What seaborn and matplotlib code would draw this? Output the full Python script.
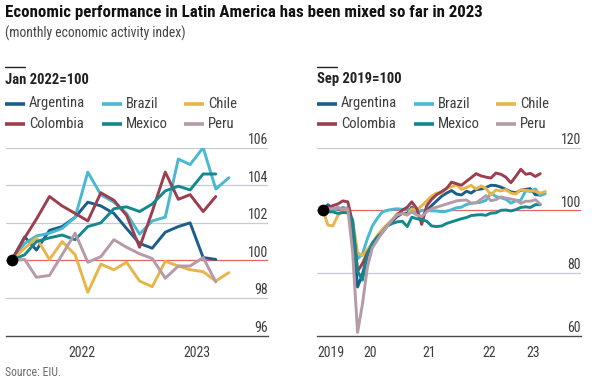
import matplotlib
matplotlib.use("Agg")
import matplotlib.pyplot as plt
import matplotlib.transforms as mtransforms
from matplotlib.lines import Line2D
import seaborn as sns
import pandas as pd

countries = ["Argentina", "Brazil", "Chile", "Colombia", "Mexico", "Peru"]
colours = ["#1b5e8c", "#47b9d0", "#e8b54a", "#9b3f4f", "#13888e", "#b59aa8"]

# left panel: index, Jan 2022=100, monthly from Jan 2022
jan22_argentina = [100, 101.25, 100.55, 101.6, 101.8, 102.3, 103.1, 102.9, 102.5, 101.7, 100.9, 100.65,
                   101.5, 101.8, 102.0, 100.15, 100.05]
jan22_brazil = [100, 100.9, 101.3, 101.45, 101.7, 102.3, 104.7, 103.5, 103.1, 102.5, 101.4, 102.1,
                102.3, 105.4, 105.1, 106.0, 103.8, 104.4]
jan22_chile = [100, 100.65, 101.2, 100.05, 101.0, 100.3, 98.3, 99.8, 99.5, 99.9, 98.9, 98.6,
               99.95, 99.7, 99.5, 99.4, 98.9, 99.35]
jan22_colombia = [100, 101.2, 102.2, 103.4, 102.9, 102.5, 102.1, 103.6, 103.2, 102.4, 100.7, 102.6,
                  104.7, 103.25, 103.5, 102.6, 103.4]
jan22_mexico = [100, 100.3, 101.0, 101.2, 101.35, 101.1, 101.8, 102.0, 102.75, 102.85, 102.6, 103.0,
                103.7, 103.95, 103.75, 104.6, 104.6]
jan22_peru = [100, 100.05, 99.1, 99.2, 100.3, 101.45, 99.9, 100.2, 101.1, 100.7, 100.35, 100.1,
              99.05, 99.7, 99.7, 100.15, 98.85]

# right panel: index, Sep 2019=100, monthly from Sep 2019
sep19_argentina = [100, 101.8, 100.6, 100.4, 100.8, 100.5, 94.5, 75.5, 79.5, 86,
                   89.5, 91.5, 93.5, 95, 96.5, 98, 99, 99, 101, 99,
                   97.5, 100, 101.5, 103, 104.5, 105.5, 106.3, 105.2, 104.9, 106.1,
                   105.5, 106.6, 106.8, 107.3, 108.0, 107.9, 107.4, 106.7, 105.9, 105.6,
                   106.4, 106.7, 106.9, 105.0, 104.9]
sep19_brazil = [100, 100.3, 100, 100.5, 100.5, 100.8, 95.5, 84.5, 86, 91,
                95, 97.5, 99.5, 100, 100.3, 100.5, 100.3, 100.5, 99.5, 99.2,
                100, 100, 99.8, 99.8, 99.5, 99.7, 100.2, 100.8, 101, 101.9,
                102.2, 102.4, 102.6, 103.2, 105.5, 104.4, 104.0, 103.5, 102.3, 103.0,
                103.2, 106.3, 106.0, 106.8, 104.7, 105.3]
sep19_chile = [100, 95.3, 95.0, 98.3, 99.8, 100.3, 97, 86.5, 85.5, 87.5,
               89.5, 92, 94, 95.5, 97, 99, 99, 98.5, 100.5, 100,
               101.5, 103, 104.5, 105.5, 105.5, 107, 107.5, 108.2, 106.7, 107.3,
               108.0, 106.8, 107.8, 107.0, 104.9, 106.5, 106.2, 106.6, 105.5, 105.2,
               106.6, 106.4, 106.2, 106.1, 105.5, 106.0]
sep19_colombia = [100, 100.8, 101.5, 102, 103, 102.7, 96, 80.5, 83, 86.5,
                  89, 91, 93, 95, 96.5, 98.5, 100, 101, 102.7, 100.5,
                  95.5, 101.5, 103.5, 105, 106, 107, 109, 108.5, 108, 109.3,
                  110.4, 111.7, 111.0, 110.6, 110.3, 111.9, 111.5, 110.6, 108.8, 110.8,
                  113.1, 111.5, 111.8, 110.8, 111.7]
sep19_mexico = [100, 99.5, 99.5, 99, 99.3, 99.2, 97, 80.5, 77.7, 86,
                89.5, 91.5, 93, 95, 95.8, 96.3, 96.5, 94.8, 97.8, 97.3,
                97, 96.5, 95, 94.8, 95, 95.8, 96.3, 96.8, 97.3, 97.7,
                98.3, 98.5, 98.6, 98.4, 99.1, 99.2, 100.0, 100.1, 99.8, 100.2,
                100.9, 101.1, 100.9, 101.8, 101.8]
sep19_peru = [100, 100.5, 100.5, 101, 100.3, 100.5, 87, 61, 70, 82,
              88, 90.5, 93, 95, 97, 98.5, 99, 98.5, 99.5, 98.5,
              98, 99.5, 100.5, 101, 101.5, 102, 102.5, 103, 103.2, 103.3,
              102.3, 102.4, 103.5, 104.7, 103.1, 103.4, 104.3, 103.9, 103.6, 103.3,
              102.2, 102.9, 102.9, 103.4, 102.0]

base = 100
left_ticks = [96, 98, 100, 102, 104, 106]
right_ticks = [60, 80, 100, 120]

W, H = 596, 383
GRID = "#c3ccd4"
TXT = "#3d3d3d"

sns.set_style("white")
plt.rcParams["font.family"] = ["Roboto Condensed", "Roboto", "DejaVu Sans"]


def long_form(series, start):
    frames = []
    for name, vals in zip(countries, series):
        dates = pd.date_range(start, periods=len(vals), freq="MS") + pd.Timedelta(days=14)
        frames.append(pd.DataFrame({"date": dates, "value": vals, "country": name}))
    return pd.concat(frames, ignore_index=True)


def fx(px):
    return px / W


def fy(py):
    return 1 - py / H


def panel(ax, df, ticks, xlim, major, minor, year_labels, label_x):
    for v in ticks[1:]:
        if v == base:
            ax.axhline(v, color="#e06666", lw=0.9, zorder=1)
        else:
            ax.axhline(v, color=GRID, lw=0.9, zorder=0)
    sns.lineplot(data=df, x="date", y="value", hue="country", hue_order=countries,
                 palette=colours, linewidth=2.1, legend=False, errorbar=None, ax=ax, zorder=3)
    ax.scatter([df["date"].min()], [base], s=55, color="black", zorder=6, clip_on=False)
    ax.set_xlim(pd.Timestamp(xlim[0]), pd.Timestamp(xlim[1]))
    ax.set_ylim(ticks[0], ticks[-1])
    for s in ["top", "left", "right"]:
        ax.spines[s].set_visible(False)
    ax.spines["bottom"].set_color("#4a4a4a")
    ax.spines["bottom"].set_linewidth(1.0)
    ax.set_yticks([])
    ax.set_xticks([pd.Timestamp(d) for d in major])
    ax.set_xticks([pd.Timestamp(d) for d in minor], minor=True)
    ax.set_xticklabels([])
    ax.tick_params(axis="x", which="major", length=7, width=0.9, color="#4a4a4a", direction="out")
    ax.tick_params(axis="x", which="minor", length=4.5, width=0.9, color="#4a4a4a", direction="out")
    ax.set_xlabel("")
    ax.set_ylabel("")
    ytrans = mtransforms.blended_transform_factory(ax.transAxes, ax.transData)
    for v in ticks:
        ax.annotate(str(v), xy=(1, v), xycoords=ytrans, xytext=(0, 2.5), textcoords="offset points",
                    ha="right", va="baseline", fontsize=10, color=TXT)
    xtrans = mtransforms.blended_transform_factory(ax.transData, ax.transAxes)
    for lab, d in zip(year_labels, label_x):
        ax.text(pd.Timestamp(d), -0.055, lab, transform=xtrans, ha="center", va="top",
                fontsize=10, color=TXT)


fig = plt.figure(figsize=(W / 100, H / 100), dpi=100)
ax1 = fig.add_axes([fx(5.7), fy(335.5), fx(268 - 5.7), (335.5 - 147.7) / H])
ax2 = fig.add_axes([fx(317.3), fy(335.5), fx(581 - 317.3), (335.5 - 147.7) / H])

left_df = long_form([jan22_argentina, jan22_brazil, jan22_chile, jan22_colombia, jan22_mexico, jan22_peru],
                    "2022-01-01")
right_df = long_form([sep19_argentina, sep19_brazil, sep19_chile, sep19_colombia, sep19_mexico, sep19_peru],
                     "2019-09-01")

panel(ax1, left_df, left_ticks, ("2022-01-01", "2023-09-16"),
      ["2022-01-01", "2023-01-01", "2023-07-01"],
      pd.date_range("2022-02-01", "2023-06-01", freq="MS"),
      ["2022", "2023"], ["2022-07-02", "2023-04-01"])
panel(ax2, right_df, right_ticks, ("2019-08-11", "2024-01-21"),
      ["2020-01-01", "2021-01-01", "2022-01-01", "2023-01-01", "2023-07-01"],
      ["2019-09-01"],
      ["2019", "20", "21", "22", "23"],
      ["2019-11-01", "2020-07-02", "2021-07-02", "2022-07-02", "2023-04-01"])
ax2.tick_params(axis="x", which="minor", length=3)

# titles
fig.text(fx(5), fy(13), "Economic performance in Latin America has been mixed so far in 2023",
         fontsize=12.2, fontweight="bold", color="#111111", va="center", ha="left")
fig.text(fx(5), fy(33), "(monthly economic activity index)", fontsize=9.8, color="#444444",
         va="center", ha="left")
fig.text(fx(5), fy(372), "Source: EIU.", fontsize=8.5, color="#6b6b6b", va="center", ha="left")

# panel headers and legends
for left, header in [(5, "Jan 2022=100"), (317, "Sep 2019=100")]:
    fig.add_artist(Line2D([fx(left), fx(left + 20)], [fy(67), fy(67)], color="#222222", lw=1.0))
    fig.text(fx(left), fy(79.5), header, fontsize=10.5, fontweight="bold", color="#222222",
             va="center", ha="left")
    for idx, (name, col) in enumerate(zip(countries, colours)):
        x0 = left + [0, 97, 179][idx % 3]
        y0 = [103.5, 123.5][idx // 3]
        fig.add_artist(Line2D([fx(x0), fx(x0 + 20)], [fy(y0), fy(y0)], color=col, lw=2.6,
                              solid_capstyle="butt"))
        fig.text(fx(x0 + 24), fy(y0), name, fontsize=10.5, color=TXT, va="center", ha="left")

fig.savefig("out.png", dpi=100)
